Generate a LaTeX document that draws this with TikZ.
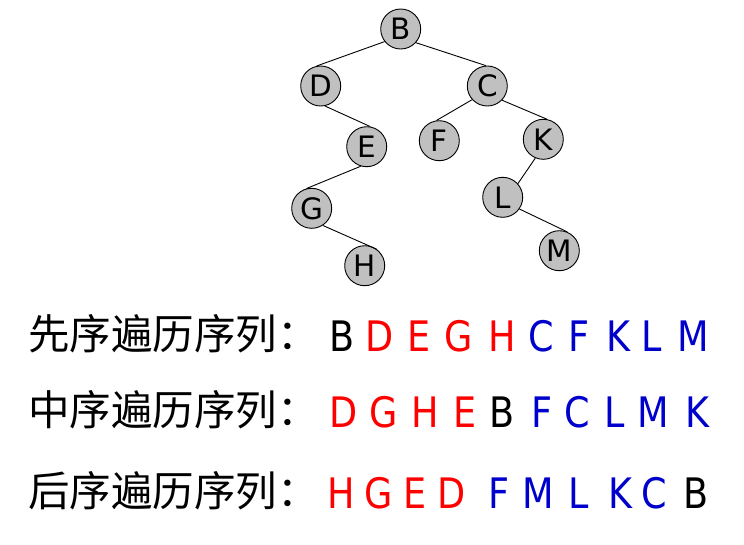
\documentclass[tikz,border=0pt]{standalone}
\usepackage{fontspec}
\newfontfamily\lettres[FakeStretch=0.87]{DejaVu Sans}
\newfontfamily\noeudfont{DejaVu Sans}
\newfontfamily\cjk{Noto Sans CJK SC}
\usetikzlibrary{positioning}

%Couleurs
\definecolor{colnoeud}{RGB}{192,192,192}
\definecolor{colgauche}{RGB}{255,0,0}
\definecolor{coldroite}{RGB}{0,0,204}

\begin{document}
\begin{tikzpicture}[x=1pt,y=-1pt,
  noeud/.style={circle,draw=black,line width=0.9pt,fill=colnoeud,minimum size=40pt,inner sep=0pt,font=\noeudfont\fontsize{29.5}{29.5}\selectfont},
  arete/.style={line width=0.9pt,black},
  lettre/.style={anchor=base,inner sep=0pt,font=\lettres\fontsize{42}{42}\selectfont},
  titre/.style={anchor=base west,inner sep=0pt,font=\cjk\fontsize{41.5}{41.5}\selectfont}]

\useasboundingbox (0,0) rectangle (744,544);

%Arbre binaire
\node[noeud] (B) at (400.7,29) {B};
\node[noeud] (D) at (320.7,86) {D};
\node[noeud] (C) at (487.3,86) {C};
\node[noeud] (E) at (366.7,146.7) {E};
\node[noeud] (F) at (439.3,140.7) {F};
\node[noeud] (K) at (543.3,139.3) {K};
\node[noeud] (G) at (311.7,208.3) {G};
\node[noeud] (L) at (502.7,197.3) {L};
\node[noeud] (H) at (364.7,265.7) {H};
\node[noeud] (M) at (559.3,250.7) {M};

%Aretes (d'un bord a l'autre)
\foreach \a/\sa/\b/\sb in {B/218/D/101, B/318/C/94, D/282/E/80, E/253/G/105, G/303/H/53,
                           C/222/F/98, C/316/K/80, K/247/L/42, L/325/M/67}
  \draw[arete] (\a.\sa) -- (\b.\sb);

%Parcours
\node[titre] (titrepre) at (28,349) {先序遍历序列：};
\node[titre] (titrein) at (28,425) {中序遍历序列：};
\node[titre] (titrepost) at (28,506) {后序遍历序列：};

\foreach \l/\c/\x in {B/black/342,D/colgauche/380,E/colgauche/419,G/colgauche/459,H/colgauche/502,C/coldroite/541,F/coldroite/579,K/coldroite/618,L/coldroite/652,M/coldroite/693}
  \node[lettre,text=\c] (pre\l) at (\x,351) {\l};

\foreach \l/\c/\x in {D/colgauche/344,G/colgauche/384,H/colgauche/425,E/colgauche/465,B/black/502,F/coldroite/542,C/coldroite/577,L/coldroite/615,M/coldroite/653,K/coldroite/697}
  \node[lettre,text=\c] (in\l) at (\x,427) {\l};

\foreach \l/\c/\x in {H/colgauche/341,G/colgauche/379,E/colgauche/415,D/colgauche/452,F/coldroite/499,M/coldroite/538,L/coldroite/579,K/coldroite/620,C/coldroite/654,B/black/696}
  \node[lettre,text=\c] (post\l) at (\x,508) {\l};

\end{tikzpicture}
\end{document}
